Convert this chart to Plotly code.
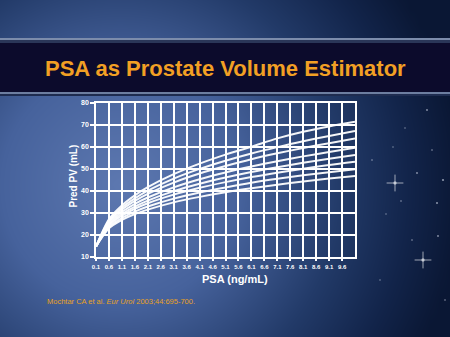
import numpy as np
import plotly.graph_objects as go

# PSA (ng/mL) sample points and predicted prostate volume (mL) for each curve
psa = [0.1, 0.6, 1.1, 1.6, 2.1, 3.1, 4.1, 5.1, 6.1, 7.1, 8.1, 9.1, 10.1]
pv_1 = [14.6, 27.0, 33.3, 37.9, 41.6, 47.5, 52.3, 56.4, 60.0, 63.8, 66.8, 69.2, 71.3]
pv_2 = [14.6, 26.4, 32.3, 36.5, 40.0, 45.5, 49.9, 53.6, 56.9, 59.8, 62.5, 64.9, 67.2]
pv_3 = [14.6, 25.9, 31.4, 35.4, 38.6, 43.7, 47.8, 51.2, 54.3, 57.0, 59.4, 61.6, 63.7]
pv_4 = [14.6, 25.2, 30.3, 34.0, 36.9, 41.5, 45.2, 48.3, 51.0, 53.4, 55.6, 57.6, 59.5]
pv_5 = [14.6, 24.6, 29.4, 32.8, 35.5, 39.8, 43.2, 46.0, 48.5, 50.7, 52.7, 54.5, 56.2]
pv_6 = [14.6, 24.1, 28.6, 31.8, 34.3, 38.2, 41.3, 43.9, 46.2, 48.2, 50.0, 51.7, 53.2]
pv_7 = [14.6, 23.5, 27.6, 30.5, 32.8, 36.4, 39.2, 41.5, 43.6, 45.4, 47.0, 48.4, 49.8]
pv_8 = [14.6, 22.9, 26.7, 29.4, 31.4, 34.7, 37.2, 39.3, 41.1, 42.7, 44.2, 45.5, 46.7]

# x tick positions and labels
x_ticks = [0.1, 0.6, 1.1, 1.6, 2.1, 2.6, 3.1, 3.6, 4.1, 4.6,
           5.1, 5.6, 6.1, 6.6, 7.1, 7.6, 8.1, 8.6, 9.1, 9.6]
x_tick_text = ["0.1", "0.6", "1.1", "1.6", "2.1", "2.6", "3.1", "3.6", "4.1", "4.6",
               "5.1", "5.6", "6.1", "6.6", "7.1", "7.6", "8.1", "8.6", "9.1", "9.6"]
y_ticks = [10, 20, 30, 40, 50, 60, 70, 80]

title_text = "PSA as Prostate Volume Estimator"
x_title = "PSA (ng/mL)"
y_title = "Pred PV (mL)"
citation = "Mochtar CA et al. <i>Eur Urol</i> 2003;44:695-700."

W, H = 450, 337
FONT = "Liberation Sans, Arial, sans-serif"

fig = go.Figure()

# --- slide backdrop on a hidden full-page pixel axis (xaxis / yaxis) ---
gx = np.arange(0, W + 10, 10)
gy = np.arange(0, H + 8, 8)
GX, GY = np.meshgrid(gx, gy)
glow = np.clip(np.hypot(GX - 120, GY - 185) / 340.0, 0, 1)
fig.add_trace(go.Heatmap(
    x=gx, y=gy, z=glow, zmin=0, zmax=1, zsmooth="best", showscale=False,
    colorscale=[[0, "#5d78b0"], [0.35, "#46629c"], [0.65, "#223a68"],
                [0.85, "#12244a"], [1, "#0a1734"]],
    hoverinfo="skip", xaxis="x", yaxis="y",
))

star_x = [395, 423, 443, 417, 437, 401, 372, 412, 438, 427, 386, 405, 445, 380, 432, 393]
star_y = [183, 260, 180, 173, 203, 201, 160, 240, 236, 110, 214, 128, 300, 280, 150, 147]
star_s = [3.5, 3.5, 2.2, 1.8, 2.0, 1.6, 1.6, 1.6, 1.8, 1.8, 1.4, 1.4, 1.6, 1.4, 1.6, 1.4]
fig.add_trace(go.Scatter(
    x=star_x, y=star_y, mode="markers",
    marker=dict(size=star_s, color="rgba(225,232,245,0.85)", line=dict(width=0)),
    hoverinfo="skip", showlegend=False, xaxis="x", yaxis="y",
))
fig.add_trace(go.Scatter(
    x=[395, 423], y=[183, 260], mode="markers",
    marker=dict(symbol="cross-thin", size=12, line=dict(color="rgba(255,255,255,0.75)", width=0.8)),
    hoverinfo="skip", showlegend=False, xaxis="x", yaxis="y",
))

# --- PSA vs predicted volume curves (xaxis2 / yaxis2) ---
for series in [pv_1, pv_2, pv_3, pv_4, pv_5, pv_6, pv_7, pv_8]:
    fig.add_trace(go.Scatter(
        x=psa, y=series, mode="lines",
        line=dict(color="rgba(255,255,255,0.95)", width=2, shape="spline", smoothing=0.8),
        showlegend=False, hoverinfo="skip", xaxis="x2", yaxis="y2",
    ))

# plot area placement in pixels
px_left, px_right, px_top, px_bottom = 96, 355, 102.7, 256.7


def band(y0, y1, color):
    return dict(type="rect", xref="paper", yref="paper", x0=0, x1=1,
                y0=1 - y1 / H, y1=1 - y0 / H, fillcolor=color,
                line=dict(width=0), layer="above")


fig.update_layout(
    template="none",
    width=W, height=H,
    margin=dict(l=0, r=0, t=0, b=0, pad=0, autoexpand=False),
    paper_bgcolor="#14264c",
    plot_bgcolor="rgba(0,0,0,0)",
    showlegend=False,
    xaxis=dict(domain=[0, 1], range=[0, W], visible=False, fixedrange=True, automargin=False),
    yaxis=dict(domain=[0, 1], range=[H, 0], visible=False, fixedrange=True, automargin=False),
    xaxis2=dict(
        domain=[px_left / W, px_right / W], anchor="y2", automargin=False,
        range=[0.1, 10.1],
        tickvals=x_ticks, ticktext=x_tick_text,
        tickfont=dict(size=6, family=FONT, color="white", weight="bold"),
        ticks="outside", ticklen=3, tickcolor="white", tickwidth=1.5,
        showgrid=True, gridcolor="white", gridwidth=1.5,
        showline=True, linecolor="white", linewidth=1.5, mirror=True,
        zeroline=False, fixedrange=True,
    ),
    yaxis2=dict(
        domain=[1 - px_bottom / H, 1 - px_top / H], anchor="x2", automargin=False,
        range=[10, 80],
        tickvals=y_ticks,
        tickfont=dict(size=7, family=FONT, color="white", weight="bold"),
        ticks="outside", ticklen=4, tickcolor="white", tickwidth=1.5,
        showgrid=True, gridcolor="white", gridwidth=1.5,
        showline=True, linecolor="white", linewidth=1.5, mirror=True,
        zeroline=False, fixedrange=True,
    ),
    shapes=[
        band(38, 40, "#7c8cab"),
        band(40, 43, "#2a3658"),
        band(43, 92, "#0c0b2c"),
        band(92, 94, "#6d7ea0"),
        band(94, 96, "#1e2c50"),
    ],
    annotations=[
        dict(text=f"<b>{title_text}</b>", xref="paper", yref="paper",
             x=225 / W, y=1 - 69 / H, xanchor="center", yanchor="middle",
             showarrow=False, font=dict(family=FONT, size=22, color="#f2a024")),
        dict(text=f"<b>{y_title}</b>", xref="paper", yref="paper",
             x=72.5 / W, y=1 - 176 / H, xanchor="center", yanchor="middle",
             textangle=-90, showarrow=False,
             font=dict(family=FONT, size=10, color="white")),
        dict(text=f"<b>{x_title}</b>", xref="paper", yref="paper",
             x=235 / W, y=1 - 279 / H, xanchor="center", yanchor="middle",
             showarrow=False, font=dict(family=FONT, size=11, color="white")),
        dict(text=citation, xref="paper", yref="paper",
             x=45 / W, y=1 - 301 / H, xanchor="left", yanchor="middle",
             showarrow=False, font=dict(family=FONT, size=7.5, color="#e9a21e")),
    ],
)

fig.write_html("out.html")
